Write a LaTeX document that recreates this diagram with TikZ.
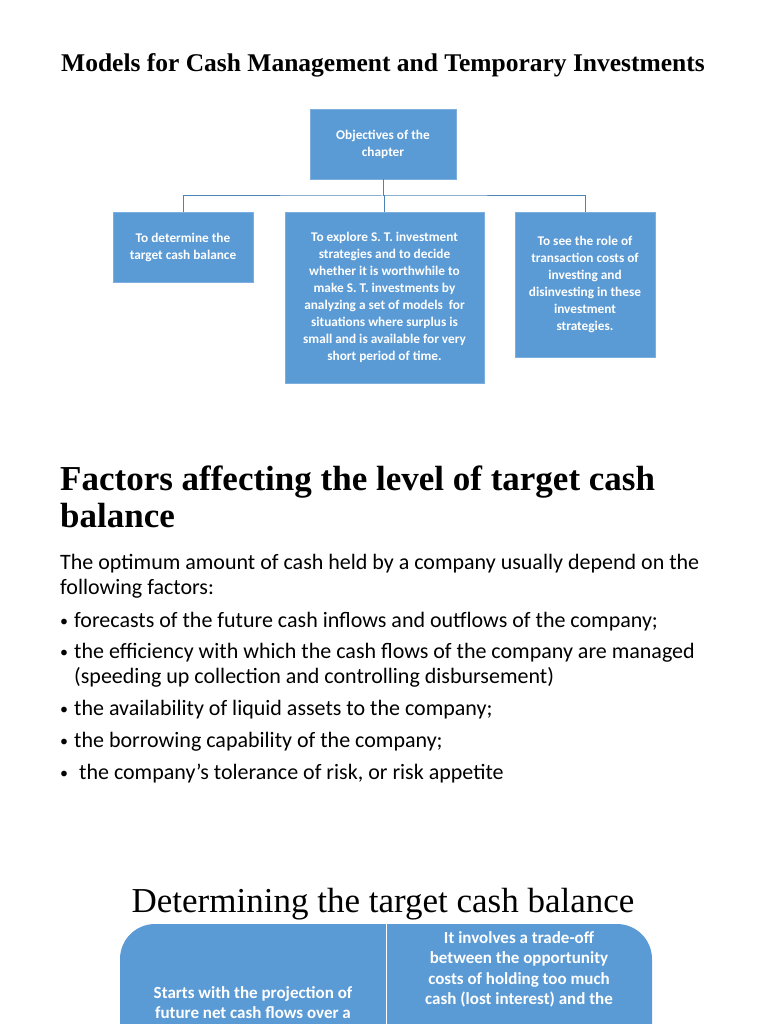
\documentclass[tikz,border=0pt]{standalone}
\usepackage{fontspec}
\setmainfont{Liberation Serif}
\newfontfamily\carlitofont{Carlito}
\definecolor{blu}{HTML}{5B9BD5}
\begin{document}
\begin{tikzpicture}[x=1pt,y=-1pt,
 box/.style={fill=blu,draw=blu!80!white,line width=0.8pt,text=white,font=\carlitofont\bfseries\fontsize{13.3}{17}\selectfont,align=center,inner sep=1pt},
 conn/.style={draw=blu!85!black,line width=1pt},
 body/.style={anchor=base west,inner sep=0pt,font=\carlitofont\fontsize{22}{24}\selectfont}]
\useasboundingbox (0,0) rectangle (768,1024);
\clip (0,0) rectangle (768,1024);
\node[anchor=base,inner sep=0pt,font=\bfseries\fontsize{25.5}{28}\selectfont] (title) at (383,72) {Models for Cash Management and Temporary Investments};
\node[box,minimum width=146,minimum height=70] (top) at (383,144) {Objectives of the\\chapter};
\node[box,minimum width=140,minimum height=70] (l) at (183,247) {To determine the\\target cash balance};
\node[box,minimum width=199,minimum height=171] (m) at (384.5,297.5) {To explore S. T. investment\\strategies and to decide\\whether it is worthwhile to\\make S. T. investments by\\analyzing a set of models~ for\\situations where surplus is\\small and is available for very\\short period of time.};
\node[box,minimum width=140,minimum height=145] (r) at (585,284.5) {To see the role of\\transaction costs of\\investing and\\disinvesting in these\\investment\\strategies.};
\coordinate (j) at (383,196);
\draw[conn] (top.south) -- (j);
\draw[conn] (l.north) |- (j) -| (r.north);
\draw[conn] (j) -- (j -| m.north) -- (m.north);
\node[anchor=base west,inner sep=0pt,font=\bfseries\fontsize{35}{38}\selectfont] (h1) at (60,490) {Factors affecting the level of target cash};
\node[anchor=base west,inner sep=0pt,font=\bfseries\fontsize{35}{38}\selectfont] (h1b) at (60,527) {balance};
\node[body] (p1) at (60,569) {The optimum amount of cash held by a company usually depend on the};
\node[body] (p2) at (60,594) {following factors:};
\foreach \y/\t [count=\i] in {627/forecasts of the future cash inflows and outflows of the company;,
 658/the efficiency with which the cash flows of the company are managed,
 715/the availability of liquid assets to the company;,
 747/the borrowing capability of the company;,
 779/{\ the company’s tolerance of risk, or risk appetite}}{
 \node[body,font=\carlitofont\fontsize{16}{20}\selectfont] (b\i) at (60,\y-1) {\textbullet};
 \node[body] (t\i) at (74,\y) {\t};
}
\node[body] (t2b) at (74,683) {(speeding up collection and controlling disbursement)};
\node[anchor=base,inner sep=0pt,font=\fontsize{35}{38}\selectfont] (h2) at (383,912) {Determining the target cash balance};
\fill[blu,rounded corners=35] (120,1100) -- (120,924) -- (652,924) -- (652,1100) -- cycle;
\draw[white,line width=1pt] (386,924) -- (386,1030);
\node[anchor=north,inner sep=0pt,text=white,align=center,font=\carlitofont\bfseries\fontsize{17}{20.5}\selectfont] (bl) at (253,986) {Starts with the projection of\\future net cash flows over a};
\node[anchor=north,inner sep=0pt,text=white,align=center,font=\carlitofont\bfseries\fontsize{17}{20.5}\selectfont] (br) at (519,931) {It involves a trade-off\\between the opportunity\\costs of holding too much\\cash (lost interest) and the};
\end{tikzpicture}
\end{document}
